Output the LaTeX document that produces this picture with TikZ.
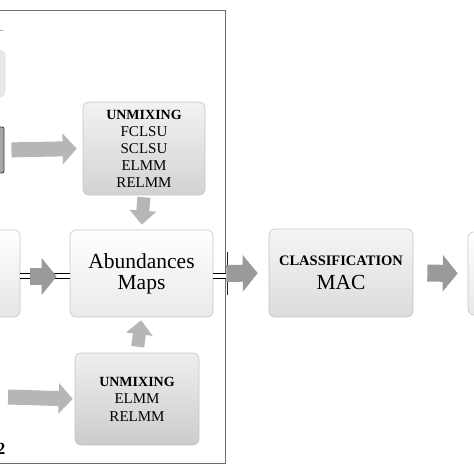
\documentclass[tikz,border=0pt]{standalone}
\usepackage{fontspec}
\setmainfont{Liberation Serif}
\usetikzlibrary{arrows.meta}

\definecolor{framecol}{HTML}{6E6E6E}
\definecolor{arrowlight}{HTML}{B6B6B6}
\definecolor{arrowdark}{HTML}{9A9A9A}

\newcommand{\hd}[1]{{\fontsize{14}{17}\selectfont\bfseries #1}}

\tikzset{
    box/.style={rounded corners=6pt, draw=gray!45, line width=0.6pt,
        align=center, inner sep=0pt},
    lightarrow/.style={arrowlight, line width=15pt,
        -{Triangle[length=14pt, width=30pt]}},
    darkarrow/.style={arrowdark, line width=17pt,
        -{Triangle[length=15pt, width=36pt]}},
    vertarrow/.style={arrowlight, line width=13pt,
        -{Triangle[length=14pt, width=26pt]}},
    link/.style={black, line width=0.9pt, double=white, double distance=3.5pt}
}

\begin{document}
\begin{tikzpicture}[x=1pt, y=-1pt]
    \useasboundingbox (0,0) rectangle (474,474);

    % Khung của giai đoạn
    \draw[framecol, line width=0.9pt] (-5,10) rectangle (225,463);
    \draw[black!85, line width=0.8pt] (227,252) -- (227,295);
    \draw[gray!70] (0,30) -- (3,30);
    \node[anchor=east, font=\fontsize{17}{17}\selectfont\bfseries] (stage) at (9,449) {2};

    % Các hộp bị cắt ở hai bên
    \node[box, draw=gray!25, fill=gray!18, minimum width=70pt, minimum height=47pt] (topgrey) at (-30,73.5) {};
    \node[box, rounded corners=2pt, draw=black!75, line width=0.9pt, fill=gray!70, minimum width=68pt, minimum height=46pt] (topdark) at (-30,150) {};
    \node[box, top color=white, bottom color=gray!20, minimum width=120pt, minimum height=87pt] (prev) at (-40,273.5) {};
    \node[box, top color=white, bottom color=gray!18, minimum width=102pt, minimum height=83pt] (next) at (519,273.5) {};

    % Các hộp chính
    \node[box, top color=gray!10, bottom color=gray!35, minimum width=122pt, minimum height=93pt,
        font=\fontsize{15}{17}\selectfont] (unmixA) at (144,148.5)
        {\hd{UNMIXING}\\FCLSU\\SCLSU\\ELMM\\RELMM};
    \node[box, top color=white, bottom color=gray!17, minimum width=143pt, minimum height=87pt,
        font=\fontsize{21.5}{21}\selectfont] (abund) at (141.5,273.5)
        {Abundances\\Maps};
    \node[box, top color=gray!13, bottom color=gray!40, minimum width=124pt, minimum height=92pt,
        font=\fontsize{15}{17.5}\selectfont] (unmixB) at (137,399)
        {\hd{UNMIXING}\\ELMM\\RELMM};
    \node[box, top color=gray!8, bottom color=gray!28, minimum width=144pt, minimum height=88pt] (classif) at (341,273)
        {{\fontsize{14.5}{17}\selectfont\bfseries CLASSIFICATION}\\[9pt]{\fontsize{21.5}{21}\selectfont MAC}};

    % Điểm vào của mũi tên dưới và điểm cắt khung
    \coordinate (srcB) at (8,397);
    \coordinate (gate) at (226,276);

    % Đường nối kép
    \draw[link] ([yshift=-2.5pt]prev.east) -- ([yshift=-2.5pt]abund.west);
    \draw[link] ([yshift=-2.5pt]abund.east) -- (gate);

    % Các mũi tên khối
    \draw[lightarrow, shorten <=7pt, shorten >=6pt] (topdark.east) -- (unmixA.west);
    \draw[lightarrow, shorten >=2pt] (srcB) -- (unmixB.west);
    \draw[vertarrow, shorten <=2pt, shorten >=5pt] (unmixA.south) -- (abund.north);
    \draw[vertarrow, shorten <=6pt, shorten >=3pt] (unmixB.north) -- (abund.south);
    \draw[darkarrow, shorten <=10pt, shorten >=13pt] ([yshift=-3pt]prev.east) -- ([yshift=-3pt]abund.west);
    \draw[darkarrow, shorten <=13pt, shorten >=11pt] (abund.east) -- (classif.west);
    \draw[darkarrow, shorten <=14pt, shorten >=10pt] (classif.east) -- (next.west);

\end{tikzpicture}
\end{document}
